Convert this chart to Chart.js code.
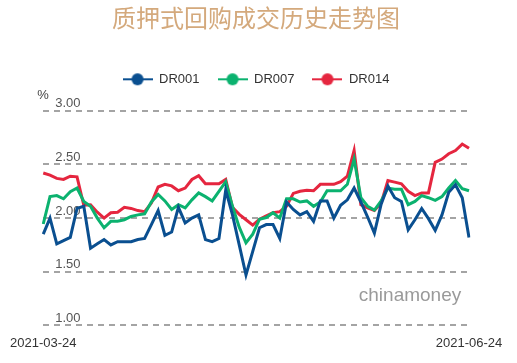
<!DOCTYPE html>
<html>
<head>
<meta charset="utf-8">
<title>质押式回购成交历史走势图</title>
<script src="https://cdn.jsdelivr.net/npm/chart.js@4.4.0/dist/chart.umd.js"></script>
<style>
    html, body { margin: 0; padding: 0; background: #fff; }
    #wrap { width: 517px; height: 363px; }
</style>
</head>
<body>
<div id="wrap"><canvas id="repoChart" width="517" height="363"></canvas></div>
<script>
// Data
const dates = [
    '2021-03-24', '2021-03-25', '2021-03-26', '2021-03-29', '2021-03-30', '2021-03-31',
    '2021-04-01', '2021-04-02', '2021-04-06', '2021-04-07', '2021-04-08', '2021-04-09',
    '2021-04-12', '2021-04-13', '2021-04-14', '2021-04-15', '2021-04-16', '2021-04-19',
    '2021-04-20', '2021-04-21', '2021-04-22', '2021-04-23', '2021-04-25', '2021-04-26',
    '2021-04-27', '2021-04-28', '2021-04-29', '2021-04-30', '2021-05-06', '2021-05-07',
    '2021-05-08', '2021-05-10', '2021-05-11', '2021-05-12', '2021-05-13', '2021-05-14',
    '2021-05-17', '2021-05-18', '2021-05-19', '2021-05-20', '2021-05-21', '2021-05-24',
    '2021-05-25', '2021-05-26', '2021-05-27', '2021-05-28', '2021-05-31', '2021-06-01',
    '2021-06-02', '2021-06-03', '2021-06-04', '2021-06-07', '2021-06-08', '2021-06-09',
    '2021-06-10', '2021-06-11', '2021-06-15', '2021-06-16', '2021-06-17', '2021-06-18',
    '2021-06-21', '2021-06-22', '2021-06-23', '2021-06-24'
];

const dr001 = [
    1.85, 2.00, 1.76, 1.79, 1.82, 2.09, 2.11, 1.72, 1.76, 1.80,
    1.75, 1.78, 1.78, 1.78, 1.80, 1.81, 1.94, 2.07, 1.84, 1.87,
    2.10, 1.955, 2.00, 2.03, 1.80, 1.78, 1.81, 2.26, 2.03, 1.75,
    1.47, 1.69, 1.91, 1.94, 1.94, 1.81, 2.15, 2.08, 2.03, 2.06,
    1.97, 2.16, 2.16, 2.00, 2.12, 2.17, 2.28, 2.15, 2.01, 1.86,
    2.13, 2.30, 2.19, 2.155, 1.89, 1.985, 2.09, 1.995, 1.885, 2.03,
    2.24, 2.31, 2.19, 1.82
];

const dr007 = [
    1.945, 2.20, 2.21, 2.18, 2.245, 2.28, 2.155, 2.11, 2.00, 1.91,
    1.97, 1.97, 1.985, 2.015, 2.03, 2.04, 2.15, 2.22, 2.16, 2.08,
    2.125, 2.095, 2.17, 2.235, 2.20, 2.16, 2.25, 2.34, 2.11, 1.915,
    1.77, 1.85, 1.99, 2.005, 2.05, 2.00, 2.18, 2.18, 2.15, 2.16,
    2.11, 2.15, 2.255, 2.255, 2.255, 2.315, 2.55, 2.19, 2.11, 2.075,
    2.16, 2.28, 2.27, 2.27, 2.125, 2.155, 2.21, 2.19, 2.165, 2.20,
    2.28, 2.35, 2.275, 2.255
];

const dr014 = [
    2.42, 2.40, 2.37, 2.36, 2.39, 2.385, 2.12, 2.125, 2.055, 2.00,
    2.05, 2.055, 2.10, 2.09, 2.07, 2.06, 2.14, 2.29, 2.315, 2.30,
    2.255, 2.28, 2.36, 2.395, 2.32, 2.32, 2.32, 2.36, 2.10, 2.035,
    1.985, 1.935, 1.99, 2.02, 2.05, 2.06, 2.11, 2.23, 2.25, 2.26,
    2.255, 2.315, 2.315, 2.315, 2.34, 2.39, 2.63, 2.125, 2.095, 2.07,
    2.14, 2.35, 2.335, 2.32, 2.25, 2.21, 2.235, 2.235, 2.52, 2.55,
    2.60, 2.63, 2.69, 2.65
];

const xTickLabels = ['2021-03-24', '2021-06-24'];
const yTicks = [1.00, 1.50, 2.00, 2.50, 3.00];

// Colours
const BLUE = '#0a4f90';
const GREEN = '#0bb26f';
const RED = '#e5263f';

// Legend marker: short line with a dot in the middle
function makeMarker(color) {
    const c = document.createElement('canvas');
    c.width = 30;
    c.height = 14;
    const g = c.getContext('2d');
    g.strokeStyle = color;
    g.lineWidth = 2;
    g.beginPath();
    g.moveTo(0, 7);
    g.lineTo(30, 7);
    g.stroke();
    g.fillStyle = color;
    g.beginPath();
    g.arc(15, 7, 6, 0, Math.PI * 2);
    g.fill();
    return c;
}

// Extra room under the legend
const legendGap = {
    id: 'legendGap',
    beforeInit(chart) {
        const fit = chart.legend.fit;
        chart.legend.fit = function () {
            fit.bind(chart.legend)();
            this.height += 15;
        };
    }
};

// "%" unit and the watermark
const extras = {
    id: 'extras',
    afterDraw(chart) {
        const ctx = chart.ctx;
        ctx.save();
        ctx.textBaseline = 'middle';
        ctx.textAlign = 'center';
        ctx.fillStyle = '#444';
        ctx.font = '13px "Liberation Sans", Arial, sans-serif';
        ctx.fillText('%', 43, 95);
        ctx.fillStyle = '#9a9a9a';
        ctx.font = '19px "Liberation Sans", Arial, sans-serif';
        ctx.fillText('chinamoney', 410, 296);
        ctx.restore();
    }
};

function lineSet(label, data, color) {
    return {
        label: label,
        data: data,
        borderColor: color,
        backgroundColor: color,
        borderWidth: 3,
        tension: 0,
        pointRadius: 0,
        pointHoverRadius: 0,
        pointStyle: makeMarker(color),
        fill: false
    };
}

const ctx = document.getElementById('repoChart');

new Chart(ctx, {
    type: 'line',
    data: {
        labels: dates,
        datasets: [
            lineSet('DR001', dr001, BLUE),
            lineSet('DR007', dr007, GREEN),
            lineSet('DR014', dr014, RED)
        ]
    },
    options: {
        responsive: false,
        animation: false,
        layout: {
            padding: { top: 0, left: 43, right: 48, bottom: 2 }
        },
        plugins: {
            title: {
                display: true,
                text: '质押式回购成交历史走势图',
                color: '#d4a97c',
                font: { family: '"Noto Sans CJK SC", sans-serif', size: 24, weight: 'normal' },
                padding: { top: 3, bottom: 23 }
            },
            legend: {
                display: true,
                labels: {
                    usePointStyle: true,
                    pointStyleWidth: 30,
                    padding: 18,
                    color: '#333',
                    font: { family: '"Liberation Sans", Arial, sans-serif', size: 13 }
                }
            },
            tooltip: { enabled: false }
        },
        scales: {
            x: {
                offset: false,
                grid: { display: false, drawTicks: false },
                border: { display: false },
                ticks: {
                    autoSkip: false,
                    maxRotation: 0,
                    padding: 10,
                    color: '#333',
                    font: { family: '"Liberation Sans", Arial, sans-serif', size: 13 },
                    callback: function (value, index) {
                        const label = dates[index];
                        return xTickLabels.includes(label) ? label : '';
                    }
                }
            },
            y: {
                position: 'left',
                min: yTicks[0],
                max: yTicks[yTicks.length - 1],
                afterBuildTicks: function (scale) {
                    scale.ticks = yTicks.map(v => ({ value: v }));
                },
                // labels sit inside the plot, so the axis takes no width
                afterFit: function (scale) {
                    scale.width = 0;
                },
                grid: {
                    color: '#a4a4a4',
                    lineWidth: 2,
                    drawTicks: false,
                    borderDash: [6, 5]
                },
                border: { display: false, dash: [6, 5] },
                ticks: {
                    mirror: true,
                    padding: 12,
                    labelOffset: -7,
                    color: '#555',
                    font: { family: '"Liberation Sans", Arial, sans-serif', size: 13 },
                    callback: function (value) {
                        return Number(value).toFixed(2);
                    }
                }
            }
        }
    },
    plugins: [legendGap, extras]
});
</script>
</body>
</html>
